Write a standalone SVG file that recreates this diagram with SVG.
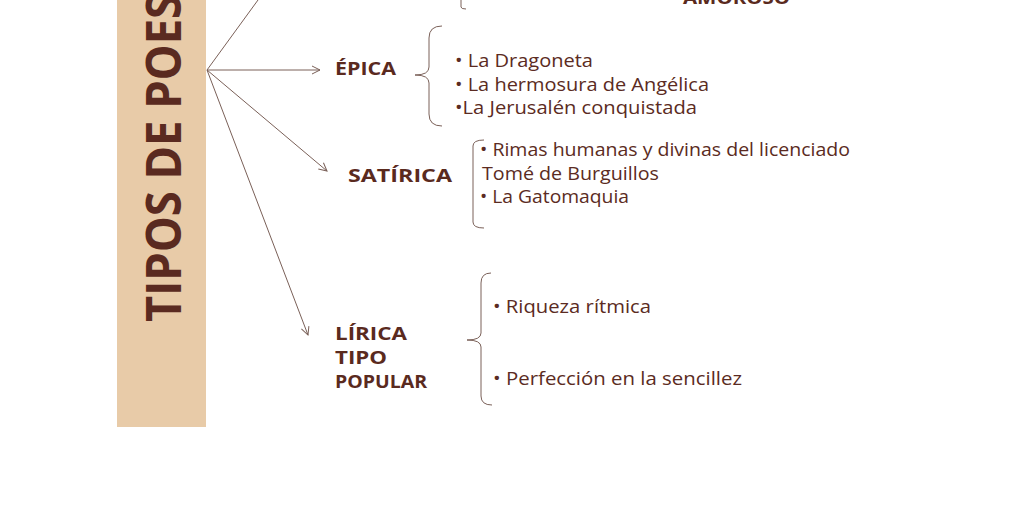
<svg xmlns="http://www.w3.org/2000/svg" width="1024" height="512" viewBox="0 0 1024 512">
<style>
.lbl{font-family:"Open Sans","Liberation Sans",sans-serif;font-weight:bold;font-size:18px;fill:#5a2a1e}
.item{font-family:"Open Sans","Liberation Sans",sans-serif;font-size:18px;fill:#5b2b22}
.conn{stroke:#7a6058;stroke-width:1;fill:none}
.brace{stroke:#7a6058;stroke-width:1;fill:none}
</style>
<defs>
<marker id="arr" viewBox="0 0 10 10" refX="9" refY="5" markerWidth="10" markerHeight="10" markerUnits="userSpaceOnUse" orient="auto">
<path d="M1,1 L9,5 L1,9" fill="none" stroke="#7a6058" stroke-width="1"/>
</marker>
</defs>
<rect width="1024" height="512" fill="#ffffff"/>
<g id="title">
<rect x="117" y="0" width="89" height="427" fill="#e8cba8"/>
<text transform="translate(181,322) rotate(-90)" font-family="'Open Sans','Liberation Sans',sans-serif" font-weight="bold" font-size="48" fill="#5a2a20" textLength="328" lengthAdjust="spacingAndGlyphs">TIPOS DE POES</text>
</g>
<g id="connectors">
<line class="conn" x1="207" y1="70" x2="258" y2="0"/>
<line class="conn" x1="207" y1="70" x2="320" y2="70" marker-end="url(#arr)"/>
<line class="conn" x1="207" y1="70" x2="327" y2="171" marker-end="url(#arr)"/>
<line class="conn" x1="207" y1="70" x2="308" y2="335" marker-end="url(#arr)"/>
</g>
<g id="amoroso">
<path class="brace" d="M461,0 L461,7 Q461,9 466,9"/>
<text class="lbl" x="683" y="4" fill="#6e1e1a" textLength="107" lengthAdjust="spacingAndGlyphs">AMOROSO</text>
</g>
<g id="epica">
<text class="lbl" x="335" y="75" textLength="61" lengthAdjust="spacingAndGlyphs">ÉPICA</text>
<path class="brace" d="M442,26 Q429,26 429,38 L429,67 Q429,75 415,75 Q429,75 429,83 L429,114 Q429,126 442,126"/>
<text class="item" x="455" y="67" textLength="138" lengthAdjust="spacingAndGlyphs">• La Dragoneta</text>
<text class="item" x="455" y="91" textLength="254" lengthAdjust="spacingAndGlyphs">• La hermosura de Angélica</text>
<text class="item" x="455" y="114" textLength="242" lengthAdjust="spacingAndGlyphs">•La Jerusalén conquistada</text>
</g>
<g id="satirica">
<text class="lbl" x="348" y="182" textLength="104" lengthAdjust="spacingAndGlyphs">SATÍRICA</text>
<path class="brace" d="M484,140 Q473,140 473,146 L473,222 Q473,228 484,228"/>
<text class="item" x="480" y="156" textLength="370" lengthAdjust="spacingAndGlyphs">• Rimas humanas y divinas del licenciado</text>
<text class="item" x="482" y="180" textLength="177" lengthAdjust="spacingAndGlyphs">Tomé de Burguillos</text>
<text class="item" x="480" y="203" textLength="149" lengthAdjust="spacingAndGlyphs">• La Gatomaquia</text>
</g>
<g id="lirica">
<text class="lbl" x="335" y="340" textLength="72" lengthAdjust="spacingAndGlyphs">LÍRICA</text>
<text class="lbl" x="335" y="364" textLength="52" lengthAdjust="spacingAndGlyphs">TIPO</text>
<text class="lbl" x="335" y="388" textLength="92" lengthAdjust="spacingAndGlyphs">POPULAR</text>
<path class="brace" d="M491,273 Q481,273 481,283 L481,333 Q481,340 467,340 Q481,340 481,347 L481,396 Q481,405 492,405"/>
<text class="item" x="493" y="313" textLength="158" lengthAdjust="spacingAndGlyphs">• Riqueza rítmica</text>
<text class="item" x="493" y="385" textLength="249" lengthAdjust="spacingAndGlyphs">• Perfección en la sencillez</text>
</g>
</svg>
